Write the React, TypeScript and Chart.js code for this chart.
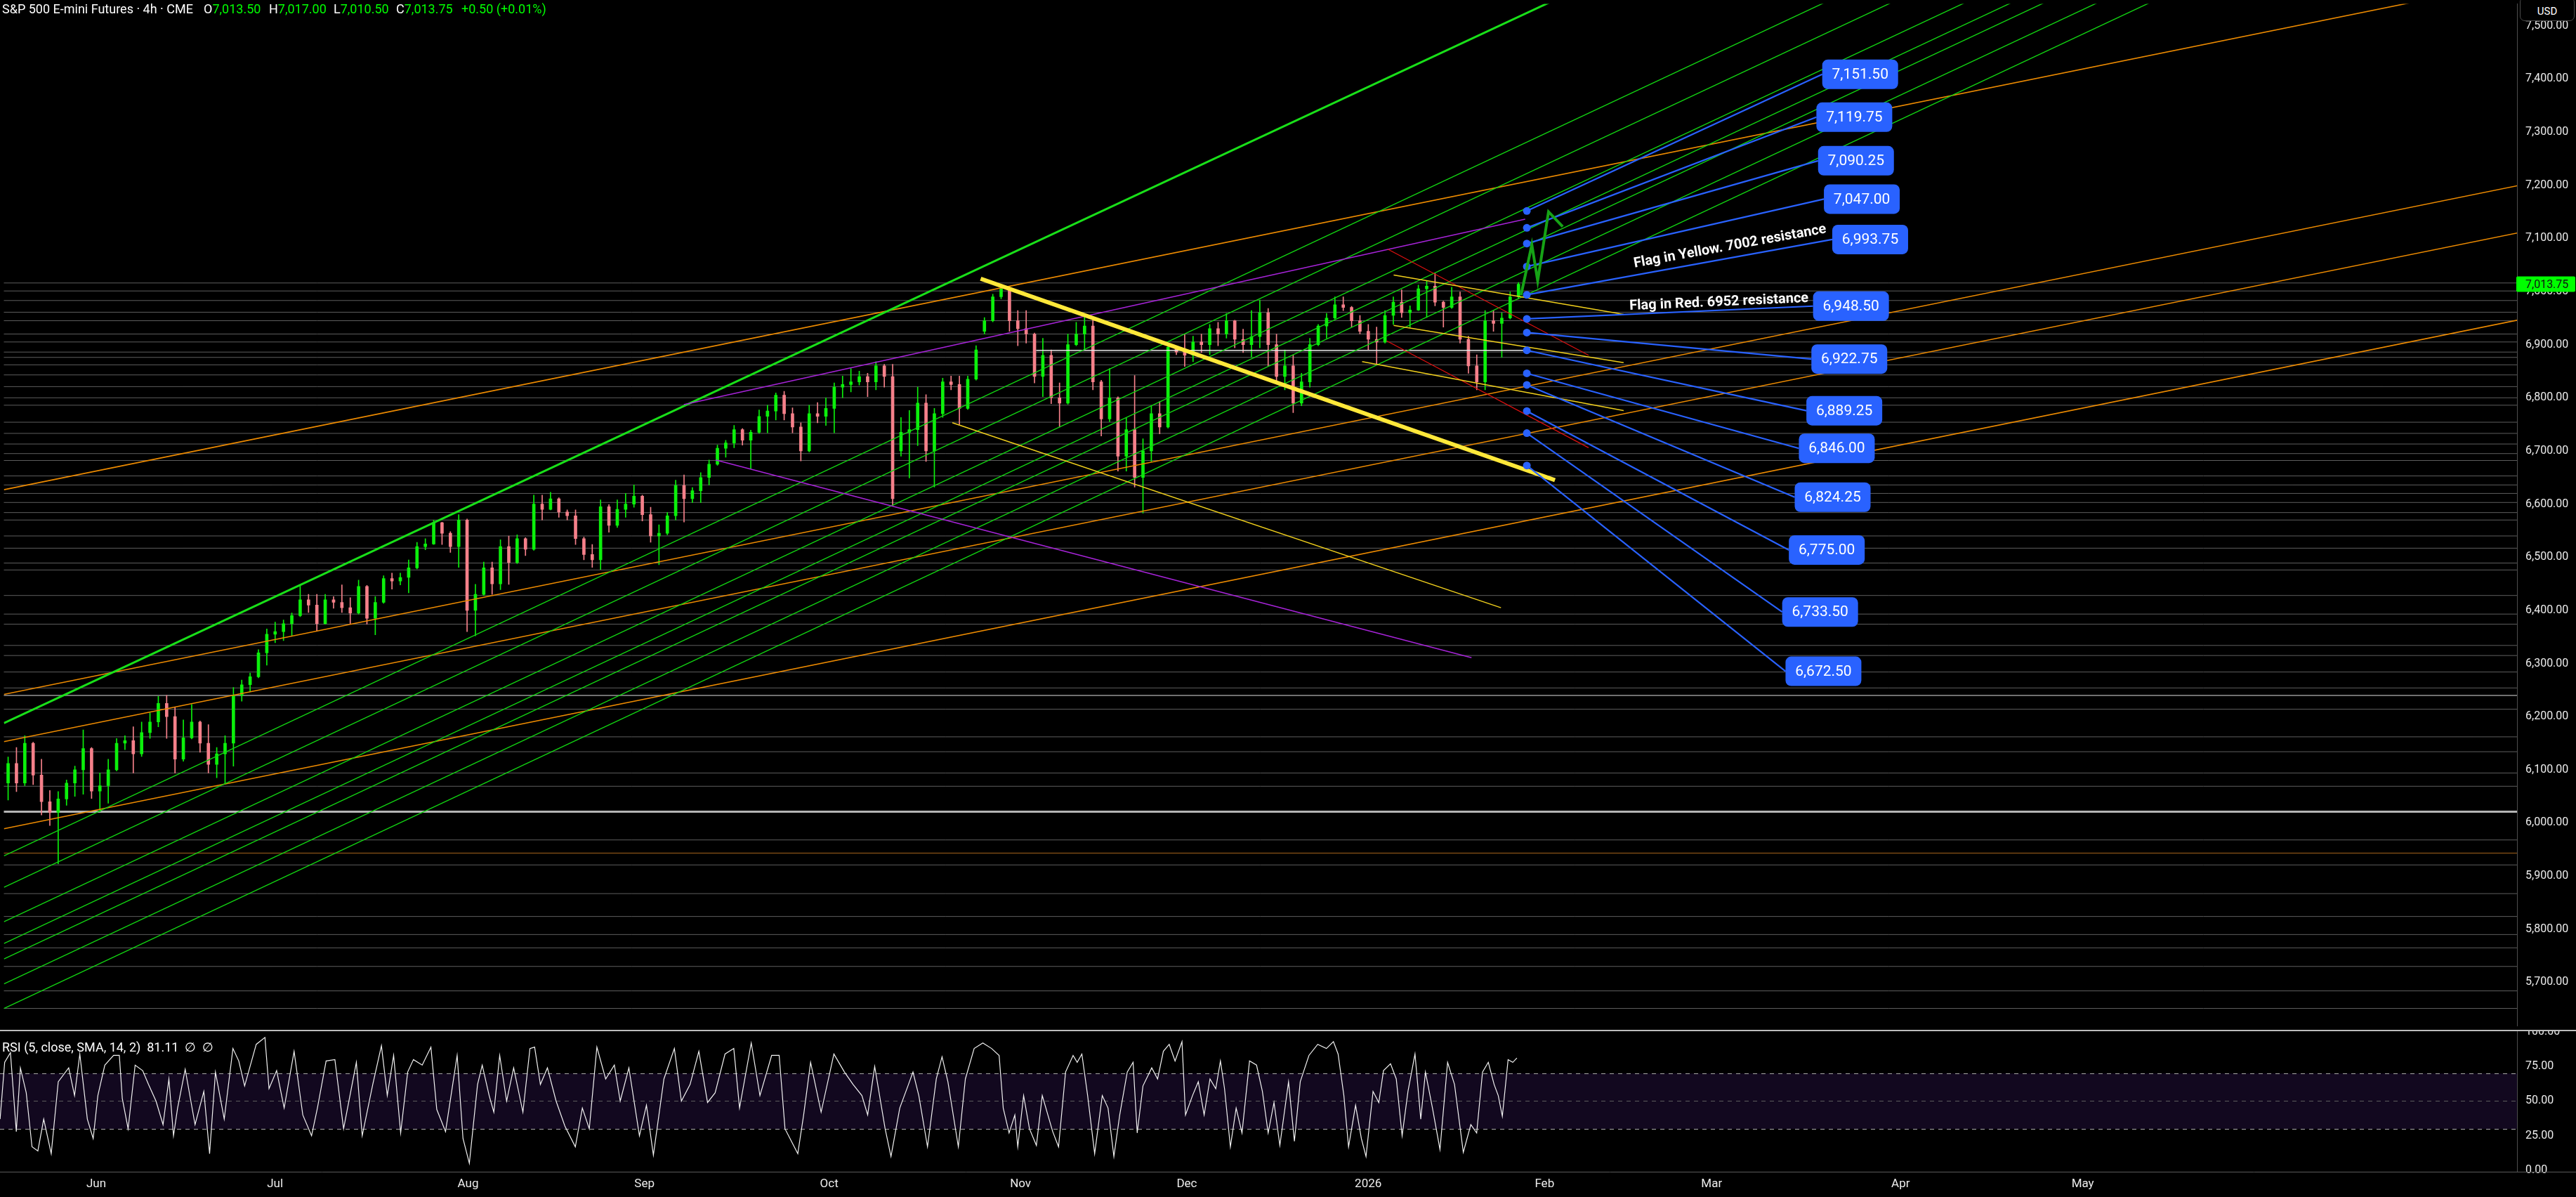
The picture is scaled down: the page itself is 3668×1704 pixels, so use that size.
import React, { useEffect, useRef } from "react";
import { Chart, registerables } from "chart.js";

Chart.register(...registerables);
Chart.defaults.font.family = "Roboto, 'Noto Sans', sans-serif";

// ---------------- DATA ----------------
// daily candles, trading-day index (0 = 2 Jun 2025)
const FIRST_DAY = -11;
const candleOpen = [
  6075,6112,6075,6150,6090,6040,6020,6045,6075,6100,
  6140,6060,6070,6100,6150,6155,6130,6170,6190,6225,
  6200,6120,6160,6190,6150,6110,6130,6150,6240,6260,
  6275,6320,6355,6360,6375,6390,6420,6410,6375,6420,
  6415,6405,6395,6445,6385,6415,6460,6455,6462,6480,
  6520,6525,6565,6545,6520,6570,6400,6430,6480,6450,
  6520,6490,6535,6515,6600,6590,6610,6585,6578,6535,
  6505,6495,6595,6560,6590,6600,6615,6580,6540,6545,
  6578,6635,6610,6625,6650,6675,6705,6715,6740,6720,
  6735,6765,6775,6805,6770,6745,6700,6770,6765,6780,
  6820,6825,6830,6840,6830,6860,6840,6700,6735,6740,
  6790,6700,6770,6830,6825,6780,6835,6925,6945,6990,
  7005,6945,6930,6920,6840,6880,6800,6790,6900,6920,
  6935,6830,6760,6800,6690,6740,6650,6700,6770,6745,
  6895,6886,6880,6905,6900,6930,6920,6945,6910,6900,
  6915,6960,6900,6840,6860,6790,6830,6900,6935,6950,
  6975,6970,6945,6925,6910,6905,6955,6980,6960,6965,
  7005,7010,6980,6970,6990,6910,6860,6830,6945,6940,
  6950,6990,
];
const candleHigh = [
  6124,6142,6164,6152,6120,6061,6059,6081,6107,6175,
  6142,6094,6120,6159,6164,6181,6190,6207,6238,6240,
  6218,6194,6223,6192,6185,6142,6164,6255,6269,6282,
  6326,6365,6378,6382,6395,6446,6430,6430,6430,6426,
  6448,6424,6457,6447,6426,6465,6470,6470,6495,6528,
  6535,6570,6566,6548,6580,6572,6449,6491,6491,6533,
  6540,6542,6537,6617,6617,6622,6612,6589,6589,6538,
  6524,6608,6599,6608,6620,6636,6617,6594,6561,6584,
  6645,6655,6631,6659,6683,6711,6720,6748,6742,6739,
  6777,6786,6809,6812,6781,6753,6786,6791,6800,6828,
  6841,6855,6850,6846,6868,6863,6863,6763,6776,6820,
  6806,6780,6837,6841,6841,6841,6898,6951,6995,7012,
  7008,6964,6964,6922,6912,6890,6828,6920,6942,6955,
  6947,6833,6855,6802,6763,6842,6723,6785,6793,6903,
  6897,6920,6916,6920,6938,6942,6959,6946,6929,6964,
  6984,6968,6920,6890,6881,6846,6912,6938,6959,6990,
  6990,6972,6955,6938,6933,6964,6990,7003,6973,7012,
  7020,7034,6982,7008,6999,6916,6881,6964,6964,6960,
  6999,7017,
];
const candleLow = [
  6043,6059,6070,6072,6015,5995,5923,6033,6050,6054,
  6046,6021,6037,6098,6138,6094,6125,6159,6181,6159,
  6094,6116,6158,6133,6094,6085,6074,6107,6229,6247,
  6273,6297,6339,6343,6352,6388,6396,6361,6374,6404,
  6396,6374,6393,6374,6354,6413,6440,6448,6433,6478,
  6514,6524,6524,6509,6481,6360,6352,6428,6430,6439,
  6449,6488,6503,6513,6570,6589,6575,6570,6524,6495,
  6481,6477,6547,6556,6575,6594,6568,6528,6486,6542,
  6570,6566,6603,6603,6636,6673,6688,6706,6711,6666,
  6733,6734,6758,6758,6734,6681,6698,6753,6748,6734,
  6800,6811,6824,6802,6815,6820,6597,6690,6649,6710,
  6680,6632,6763,6815,6750,6778,6833,6920,6943,6986,
  6925,6898,6903,6828,6802,6789,6745,6788,6898,6890,
  6815,6728,6755,6662,6662,6632,6583,6680,6732,6743,
  6881,6859,6868,6885,6881,6898,6912,6894,6885,6876,
  6894,6859,6828,6815,6772,6785,6820,6898,6912,6948,
  6964,6933,6920,6890,6863,6903,6938,6951,6933,6964,
  6951,6973,6933,6968,6903,6846,6815,6815,6925,6876,
  6948,6986,
];
const candleClose = [
  6112,6075,6150,6090,6040,6020,6045,6075,6100,6140,
  6060,6070,6100,6150,6155,6130,6170,6190,6225,6200,
  6120,6160,6190,6150,6110,6130,6150,6240,6260,6275,
  6320,6355,6360,6375,6390,6420,6410,6375,6420,6415,
  6405,6395,6445,6385,6415,6460,6455,6462,6480,6520,
  6525,6565,6545,6520,6570,6400,6430,6480,6450,6520,
  6490,6535,6515,6600,6590,6610,6585,6578,6535,6505,
  6495,6595,6560,6590,6600,6615,6580,6540,6545,6578,
  6635,6610,6625,6650,6675,6705,6715,6740,6720,6735,
  6765,6775,6805,6770,6745,6700,6770,6765,6780,6820,
  6825,6830,6840,6830,6860,6840,6610,6735,6740,6790,
  6700,6770,6830,6825,6780,6835,6890,6945,6990,7005,
  6945,6930,6920,6840,6880,6800,6790,6900,6920,6935,
  6830,6760,6800,6690,6740,6650,6700,6770,6745,6895,
  6886,6880,6905,6900,6930,6920,6945,6910,6900,6915,
  6960,6900,6840,6860,6790,6830,6900,6935,6950,6975,
  6970,6945,6925,6910,6905,6955,6980,6960,6965,7005,
  7010,6980,6970,6990,6910,6860,6830,6945,6940,6950,
  6990,7013.75,
];

// RSI(5) turning points: time (trading-day index) and value
const rsiTime = [
  -11.5,-10.95,-10.26,-9.56,-9.07,-8.37,-7.68,-6.98,-6.28,-5.38,-4.54,-3.29,-2.59,-1.96,-1.06,-0.36,
  0.2,1.03,2.08,2.77,3.12,3.82,4.66,5.56,6.26,7.16,8.0,8.7,9.25,9.74,10.65,11.83,12.88,13.57,14.27,
  15.32,16.36,17.06,17.76,19.15,20.19,20.68,21.59,22.49,23.68,24.72,25.77,26.47,27.51,28.56,29.6,
  31.13,31.83,33.09,34.13,34.83,35.59,36.43,37.27,37.96,39.01,40.05,40.75,41.8,43.19,43.89,44.65,
  45.63,46.19,47.02,47.58,48.28,49.11,49.95,51.06,51.9,52.46,53.15,53.99,55.03,56.08,57.33,58.17,
  59.0,59.91,60.96,62.0,62.7,63.74,65.0,65.84,66.67,67.93,69.18,70.02,71.06,72.11,73.15,74.06,
  75.24,76.29,76.98,78.38,79.42,80.82,81.72,82.42,83.95,84.65,85.48,86.74,88.27,89.53,90.57,91.62,
  92.31,93.15,94.4,95.1,96.15,97.19,97.73,98.43,99.47,100.52,101.21,101.91,103.16,104.0,105.05,
  106.09,107.14,108.04,108.53,109.23,109.92,110.27,110.97,111.67,112.5,113.2,114.45,115.15,115.99,
  116.89,117.38,117.94,118.63,119.47,120.38,121.07,121.77,122.47,123.37,124.07,124.56,125.25,126.3,
  127.0,127.69,128.39,129.09,129.92,130.34,131.18,131.87,132.57,133.27,133.96,134.52,135.01,135.71,
  136.4,137.1,138.0,138.84,139.54,140.23,140.93,141.63,142.67,143.37,144.07,145.11,146.16,147.2,
  148.04,148.6,149.29,149.85,150.69,151.38,151.94,152.78,153.47,154.03,154.87,155.56,156.26,156.96,
  157.8,158.49,159.05,159.89,160.79,161.7,162.53,163.58,164.48,165.18,165.88,166.57,167.27,167.76,
  168.25,168.94,169.5,169.99,
];
const rsiValue = [
  37,78,85,28,74,56,17,14,37,12,64,74,54,84,37,23,
  54,76,83,83,52,30,76,72,62,50,33,66,25,45,73,33,57,12,71,
  37,88,79,61,91,96,59,72,45,86,40,25,45,79,80,30,
  78,25,62,90,54,83,27,71,80,76,89,44,28,83,23,5,
  62,76,54,42,83,50,74,42,88,89,62,74,50,32,17,45,
  30,89,66,76,50,74,25,47,11,66,88,50,62,86,49,56,
  84,88,45,92,54,83,83,30,12,40,78,42,84,71,62,54,
  40,75,30,10,45,62,71,54,17,66,82,64,17,66,88,
  92,88,83,45,27,40,17,54,30,18,54,28,17,71,
  83,78,84,54,12,54,45,10,40,71,78,27,61,74,
  66,86,91,79,93,40,54,64,40,66,59,79,59,17,
  45,27,79,76,57,27,49,18,64,21,64,83,91,88,
  93,84,54,17,47,23,10,57,49,72,77,66,25,57,
  84,37,71,45,15,78,62,13,33,27,71,78,62,54,
  39,80,78,81.11,
];

const monthTicks = [0, 21.4, 44.5, 65.6, 87.7, 110.6, 130.5, 152.2, 173.3, 193.3, 215.9, 237.7];
const monthLabels = ["Jun", "Jul", "Aug", "Sep", "Oct", "Nov", "Dec", "2026", "Feb", "Mar", "Apr", "May"];
const priceTicks = [5700, 5800, 5900, 6000, 6100, 6200, 6300, 6400, 6500, 6600, 6700, 6800, 6900, 7000, 7100, 7200, 7300, 7400, 7500];
const rsiTicks = [0, 25, 50, 75, 100];
const rsiBands = [30, 50, 70];

// horizontal levels drawn on the chart
const levelPrices = [
  7016, 7001, 6983, 6961, 6945, 6920, 6905, 6886, 6876, 6862, 6843, 6821, 6800, 6786, 6754, 6733,
  6713, 6695, 6682, 6653, 6636, 6620, 6603, 6584, 6570, 6540, 6517, 6489, 6476, 6428, 6393, 6374,
  6334, 6315, 6284, 6254, 6214, 6162, 6134, 6094, 6069, 5968, 5921, 5867, 5824, 5790, 5765, 5730,
  5684, 5651,
];
const mediumLevel = 6240;
const strongLevel = 6021;
const brownLevel = 5943;

// trend lines: [startTime, startPrice, endTime, endPrice]
const thickGreenLine = [-11.5, 6188, 180, 7590];
const fanStartTime = -11.5;
const fanEndTime = 260;
const fanStartPrice = [5938, 5879, 5814, 5773, 5744, 5697, 5651];
const fanEndPrice = [7936, 7877, 7812, 7771, 7742, 7695, 7649];
const orangeStartTime = -11.5;
const orangeEndTime = 290;
const orangeStartPrice = [6627, 6242, 6153, 5989];
const orangeEndPrice = [7585, 7200, 7111, 6947];
const purpleLines = [
  [69.97, 6787, 170.8, 7136],
  [73.78, 6683, 164.37, 6311],
];
const yellowThickLine = [105.55, 7024, 174.37, 6645];
const yellowLines = [
  [102.15, 6753, 167.9, 6405],
  [155.04, 7031, 182.6, 6957],
  [155.04, 6936, 182.6, 6866],
  [151.26, 6868, 182.6, 6776],
];
const redLines = [
  [154.3, 7080, 178.4, 6880],
  [154.2, 6907, 178.4, 6706],
];
const whiteLevel = [112.2, 6889.25, 171, 6889.25];
const forecastTime = [170.3, 171.6, 172.3, 173.6, 175.3];
const forecastPrice = [6993, 7088, 7020, 7150, 7122];

// price callouts
const calloutValues = [7151.5, 7119.75, 7090.25, 7047.0, 6993.75, 6948.5, 6922.75, 6889.25, 6846.0, 6824.25, 6775.0, 6733.5, 6672.5];
const calloutDotTime = 171;
const calloutAnchorTime = [206.4, 205.7, 205.9, 206.6, 207.6, 205.3, 205.1, 204.5, 203.6, 203.1, 202.4, 201.6, 202.0];
const calloutAnchorPrice = [7408.7, 7328, 7246, 7173.9, 7097.8, 6972.5, 6872.8, 6775.7, 6704.9, 6613, 6513.6, 6396.9, 6285.4];
const noteText = ["Flag in Yellow. 7002 resistance", "Flag in Red. 6952 resistance"];
const noteCallout = [4, 5];
const noteLift = [5, 1];

const lastPrice = 7013.75;
const rsiLast = 81.11;

// ---------------- HELPERS ----------------
const X_MIN = -11.51;
const X_MAX = 289.66;
const fmt = (v: number) => Number(v).toLocaleString("en-US", { minimumFractionDigits: 2, maximumFractionDigits: 2 });

function seg(l: number[], color: string, width: number, order: number) {
  return {
    type: "line" as const,
    data: [{ x: l[0], y: l[1] }, { x: l[2], y: l[3] }],
    borderColor: color,
    borderWidth: width,
    pointRadius: 0,
    fill: false,
    tension: 0,
    order,
  };
}

const UP = "#0bf00b";
const DOWN = "#f5808a";
const AXIS_LINE = "#4d4d4d";
const TEXT = "#ececec";
const BLUE = "#2962ff";

export default function App() {
  const priceRef = useRef<HTMLCanvasElement>(null);
  const rsiRef = useRef<HTMLCanvasElement>(null);

  useEffect(() => {
    document.body.style.margin = "0";
    document.body.style.background = "#000";

    const days = candleOpen.map((_, i) => FIRST_DAY + i);
    const colors = candleOpen.map((o, i) => (candleClose[i] >= o ? UP : DOWN));

    const datasets: any[] = [];
    levelPrices.forEach((p) => datasets.push(seg([X_MIN - 5, p, X_MAX + 5, p], "#5e5e5e", 1, 60)));
    datasets.push(seg([X_MIN - 5, mediumLevel, X_MAX + 5, mediumLevel], "#707070", 2, 59));
    datasets.push(seg([X_MIN - 5, strongLevel, X_MAX + 5, strongLevel], "#b4b4b4", 3, 59));
    datasets.push(seg([X_MIN - 5, brownLevel, X_MAX + 5, brownLevel], "#7a4a14", 1.5, 59));
    datasets.push(seg(whiteLevel, "#e8e8e8", 1.5, 20));

    datasets.push({
      type: "bar",
      data: days.map((d, i) => ({ x: d, y: [candleLow[i], candleHigh[i]] })),
      backgroundColor: colors,
      barThickness: 1,
      grouped: false,
      order: 40,
    });
    datasets.push({
      type: "bar",
      data: days.map((d, i) => ({ x: d, y: [candleOpen[i], candleClose[i]] })),
      backgroundColor: colors,
      barThickness: 4,
      minBarLength: 1,
      grouped: false,
      order: 39,
    });

    datasets.push(seg(thickGreenLine, "#19e019", 3, 15));
    fanStartPrice.forEach((p, i) => datasets.push(seg([fanStartTime, p, fanEndTime, fanEndPrice[i]], "#12d212", 1.4, 16)));
    orangeStartPrice.forEach((p, i) => datasets.push(seg([orangeStartTime, p, orangeEndTime, orangeEndPrice[i]], "#ec8a00", 1.6, 17)));
    purpleLines.forEach((l) => datasets.push(seg(l, "#a623d8", 1.6, 14)));
    yellowLines.forEach((l) => datasets.push(seg(l, "#f0cf1c", 1.5, 13)));
    datasets.push(seg(yellowThickLine, "#ffe83a", 6, 12));
    redLines.forEach((l) => datasets.push(seg(l, "#e01010", 1.2, 13)));

    calloutValues.forEach((v, i) =>
      datasets.push(seg([calloutDotTime, v, calloutAnchorTime[i], calloutAnchorPrice[i]], BLUE, 2.2, 3))
    );
    datasets.push({
      type: "line",
      data: calloutValues.map((v) => ({ x: calloutDotTime, y: v })),
      showLine: false,
      pointRadius: 5.5,
      pointBackgroundColor: BLUE,
      pointBorderWidth: 0,
      order: 2,
    });
    datasets.push({
      type: "line",
      data: forecastTime.map((t, i) => ({ x: t, y: forecastPrice[i] })),
      borderColor: "#16a316",
      borderWidth: 4,
      pointRadius: 0,
      tension: 0,
      order: 1,
    });

    const overlay = {
      id: "overlay",
      afterDraw(chart: any) {
        const { ctx } = chart;
        const x = chart.scales.x;
        const y = chart.scales.y;
        ctx.save();
        // notes along callout lines
        noteText.forEach((t, n) => {
          const i = noteCallout[n];
          const x1 = x.getPixelForValue(calloutDotTime);
          const y1 = y.getPixelForValue(calloutValues[i]);
          const x2 = x.getPixelForValue(calloutAnchorTime[i]);
          const y2 = y.getPixelForValue(calloutAnchorPrice[i]);
          const ang = Math.atan2(y2 - y1, x2 - x1);
          ctx.save();
          ctx.translate(x2 - 6, y2);
          ctx.rotate(ang);
          ctx.font = "bold 20px Roboto, sans-serif";
          ctx.fillStyle = "#ffffff";
          ctx.textAlign = "right";
          ctx.textBaseline = "bottom";
          ctx.fillText(t, 0, -noteLift[n]);
          ctx.restore();
        });
        // callout boxes
        ctx.font = "21px Roboto, sans-serif";
        ctx.textAlign = "center";
        ctx.textBaseline = "middle";
        calloutValues.forEach((v, i) => {
          const bx = x.getPixelForValue(calloutAnchorTime[i]);
          const by = y.getPixelForValue(calloutAnchorPrice[i]);
          ctx.fillStyle = BLUE;
          ctx.beginPath();
          (ctx as any).roundRect(bx, by - 21, 108, 42, 8);
          ctx.fill();
          ctx.fillStyle = "#ffffff";
          ctx.fillText(fmt(v), bx + 54, by + 1);
        });
        // last price label on the axis
        const py = y.getPixelForValue(lastPrice);
        const ax = chart.chartArea.right;
        ctx.fillStyle = "#00ff00";
        ctx.beginPath();
        (ctx as any).roundRect(ax - 1, py - 11, 84, 22, 2);
        ctx.fill();
        ctx.fillStyle = "#111";
        ctx.font = "16px Roboto, sans-serif";
        ctx.textAlign = "left";
        ctx.fillText(fmt(lastPrice), ax + 12, py + 1);
        ctx.restore();
      },
    };

    const priceChart = new Chart(priceRef.current as HTMLCanvasElement, {
      type: "bar",
      data: { datasets },
      options: {
        responsive: false,
        animation: false,
        devicePixelRatio: 1,
        events: [],
        layout: { padding: 0 },
        plugins: { legend: { display: false }, tooltip: { enabled: false } },
        scales: {
          x: {
            type: "linear",
            min: X_MIN,
            max: X_MAX,
            offset: false,
            display: false,
            grid: { display: false },
          },
          y: {
            type: "linear",
            position: "right",
            min: 5618,
            max: 7541.2,
            afterFit: (s: any) => {
              s.width = 84;
              s.paddingTop = 0;
              s.paddingBottom = 0;
            },
            afterBuildTicks: (s: any) => {
              s.ticks = priceTicks.map((v) => ({ value: v }));
            },
            ticks: { color: TEXT, font: { size: 16 }, padding: 12, callback: (v: any) => fmt(v) },
            grid: { display: false, drawTicks: false },
            border: { display: true, color: AXIS_LINE },
          },
        },
      } as any,
      plugins: [overlay],
    } as any);

    const rsiDecor = {
      id: "rsiDecor",
      beforeDatasetsDraw(chart: any) {
        const { ctx, chartArea } = chart;
        const y = chart.scales.y;
        const yTop = y.getPixelForValue(rsiBands[2]);
        const yBot = y.getPixelForValue(rsiBands[0]);
        const yMid = y.getPixelForValue(rsiBands[1]);
        ctx.save();
        ctx.fillStyle = "#12081f";
        ctx.fillRect(chartArea.left, yTop, chartArea.right - chartArea.left, yBot - yTop);
        ctx.setLineDash([6, 6]);
        ctx.lineWidth = 1;
        ctx.strokeStyle = "#a8a8a8";
        [yTop, yBot].forEach((yy) => {
          ctx.beginPath();
          ctx.moveTo(chartArea.left, Math.round(yy) + 0.5);
          ctx.lineTo(chartArea.right, Math.round(yy) + 0.5);
          ctx.stroke();
        });
        ctx.strokeStyle = "#5c5c5c";
        ctx.beginPath();
        ctx.moveTo(chartArea.left, Math.round(yMid) + 0.5);
        ctx.lineTo(chartArea.right, Math.round(yMid) + 0.5);
        ctx.stroke();
        ctx.restore();
      },
      afterDraw(chart: any) {
        const { ctx, chartArea, width } = chart;
        ctx.save();
        ctx.lineWidth = 2;
        ctx.strokeStyle = "#bdbdbd";
        ctx.beginPath();
        ctx.moveTo(0, 1);
        ctx.lineTo(width, 1);
        ctx.stroke();
        ctx.lineWidth = 1;
        ctx.strokeStyle = "#5a5a5a";
        ctx.beginPath();
        ctx.moveTo(0, Math.round(chartArea.bottom) + 0.5);
        ctx.lineTo(width, Math.round(chartArea.bottom) + 0.5);
        ctx.stroke();
        ctx.restore();
      },
    };

    const rsiChart = new Chart(rsiRef.current as HTMLCanvasElement, {
      type: "line",
      data: {
        datasets: [
          {
            data: rsiTime.map((t, i) => ({ x: t, y: rsiValue[i] })),
            borderColor: "#f2f2f2",
            borderWidth: 1.2,
            pointRadius: 0,
            tension: 0,
          },
        ],
      },
      options: {
        responsive: false,
        animation: false,
        devicePixelRatio: 1,
        events: [],
        layout: { padding: 0 },
        plugins: { legend: { display: false }, tooltip: { enabled: false } },
        scales: {
          x: {
            type: "linear",
            min: X_MIN,
            max: X_MAX,
            offset: false,
            afterFit: (s: any) => {
              s.height = 36;
              s.paddingLeft = 0;
              s.paddingRight = 0;
            },
            afterBuildTicks: (s: any) => {
              s.ticks = monthTicks.map((v) => ({ value: v }));
            },
            ticks: {
              color: TEXT,
              font: { size: 17 },
              padding: 8,
              maxRotation: 0,
              autoSkip: false,
              callback: (v: any) => {
                const k = monthTicks.indexOf(Number(v));
                return k >= 0 ? monthLabels[k] : "";
              },
            },
            grid: { display: false, drawTicks: false },
            border: { display: false },
          },
          y: {
            type: "linear",
            position: "right",
            min: -1,
            max: 101.5,
            afterFit: (s: any) => {
              s.width = 84;
              s.paddingTop = 0;
              s.paddingBottom = 0;
            },
            afterBuildTicks: (s: any) => {
              s.ticks = rsiTicks.map((v) => ({ value: v }));
            },
            ticks: { color: TEXT, font: { size: 16 }, padding: 12, callback: (v: any) => fmt(v) },
            grid: { display: false, drawTicks: false },
            border: { display: true, color: AXIS_LINE },
          },
        },
      } as any,
      plugins: [rsiDecor],
    } as any);

    return () => {
      priceChart.destroy();
      rsiChart.destroy();
    };
  }, []);

  const green = "#00ff00";
  const titleStyle: React.CSSProperties = {
    position: "absolute",
    top: 2,
    fontSize: 18,
    lineHeight: "22px",
    color: "#ffffff",
    whiteSpace: "nowrap",
    fontFamily: "Roboto, sans-serif",
  };

  return (
    <div
      style={{
        position: "fixed",
        left: 0,
        top: 0,
        width: 3668,
        height: 1704,
        background: "#000",
        overflow: "hidden",
        fontFamily: "Roboto, sans-serif",
      }}
    >
      <canvas
        ref={priceRef}
        width={3668}
        height={1466}
        style={{ position: "absolute", left: 0, top: 0, width: 3668, height: 1466 }}
      />
      <canvas
        ref={rsiRef}
        width={3668}
        height={238}
        style={{ position: "absolute", left: 0, top: 1466, width: 3668, height: 238 }}
      />
      <div style={{ ...titleStyle, left: 3 }}>S&amp;P 500 E-mini Futures · 4h · CME</div>
      <div style={{ ...titleStyle, left: 290 }}>
        O<span style={{ color: green }}>7,013.50</span>
      </div>
      <div style={{ ...titleStyle, left: 383 }}>
        H<span style={{ color: green }}>7,017.00</span>
      </div>
      <div style={{ ...titleStyle, left: 475 }}>
        L<span style={{ color: green }}>7,010.50</span>
      </div>
      <div style={{ ...titleStyle, left: 564 }}>
        C<span style={{ color: green }}>{fmt(lastPrice)}</span>
      </div>
      <div style={{ ...titleStyle, left: 657, color: green }}>+0.50 (+0.01%)</div>
      <div
        style={{
          position: "absolute",
          left: 3588,
          top: -4,
          width: 78,
          height: 34,
          border: "1px solid #4a4a4a",
          borderRadius: 7,
          background: "#000",
          color: "#ffffff",
          fontSize: 15,
          lineHeight: "38px",
          textAlign: "center",
          boxSizing: "border-box",
        }}
      >
        USD
      </div>
      <div
        style={{
          position: "absolute",
          left: 3,
          top: 1479,
          fontSize: 18,
          lineHeight: "24px",
          color: "#ffffff",
          whiteSpace: "nowrap",
        }}
      >
        RSI (5, close, SMA, 14, 2)&nbsp;&nbsp;{rsiLast.toFixed(2)}&nbsp;&nbsp;∅&nbsp;&nbsp;∅
      </div>
    </div>
  );
}
